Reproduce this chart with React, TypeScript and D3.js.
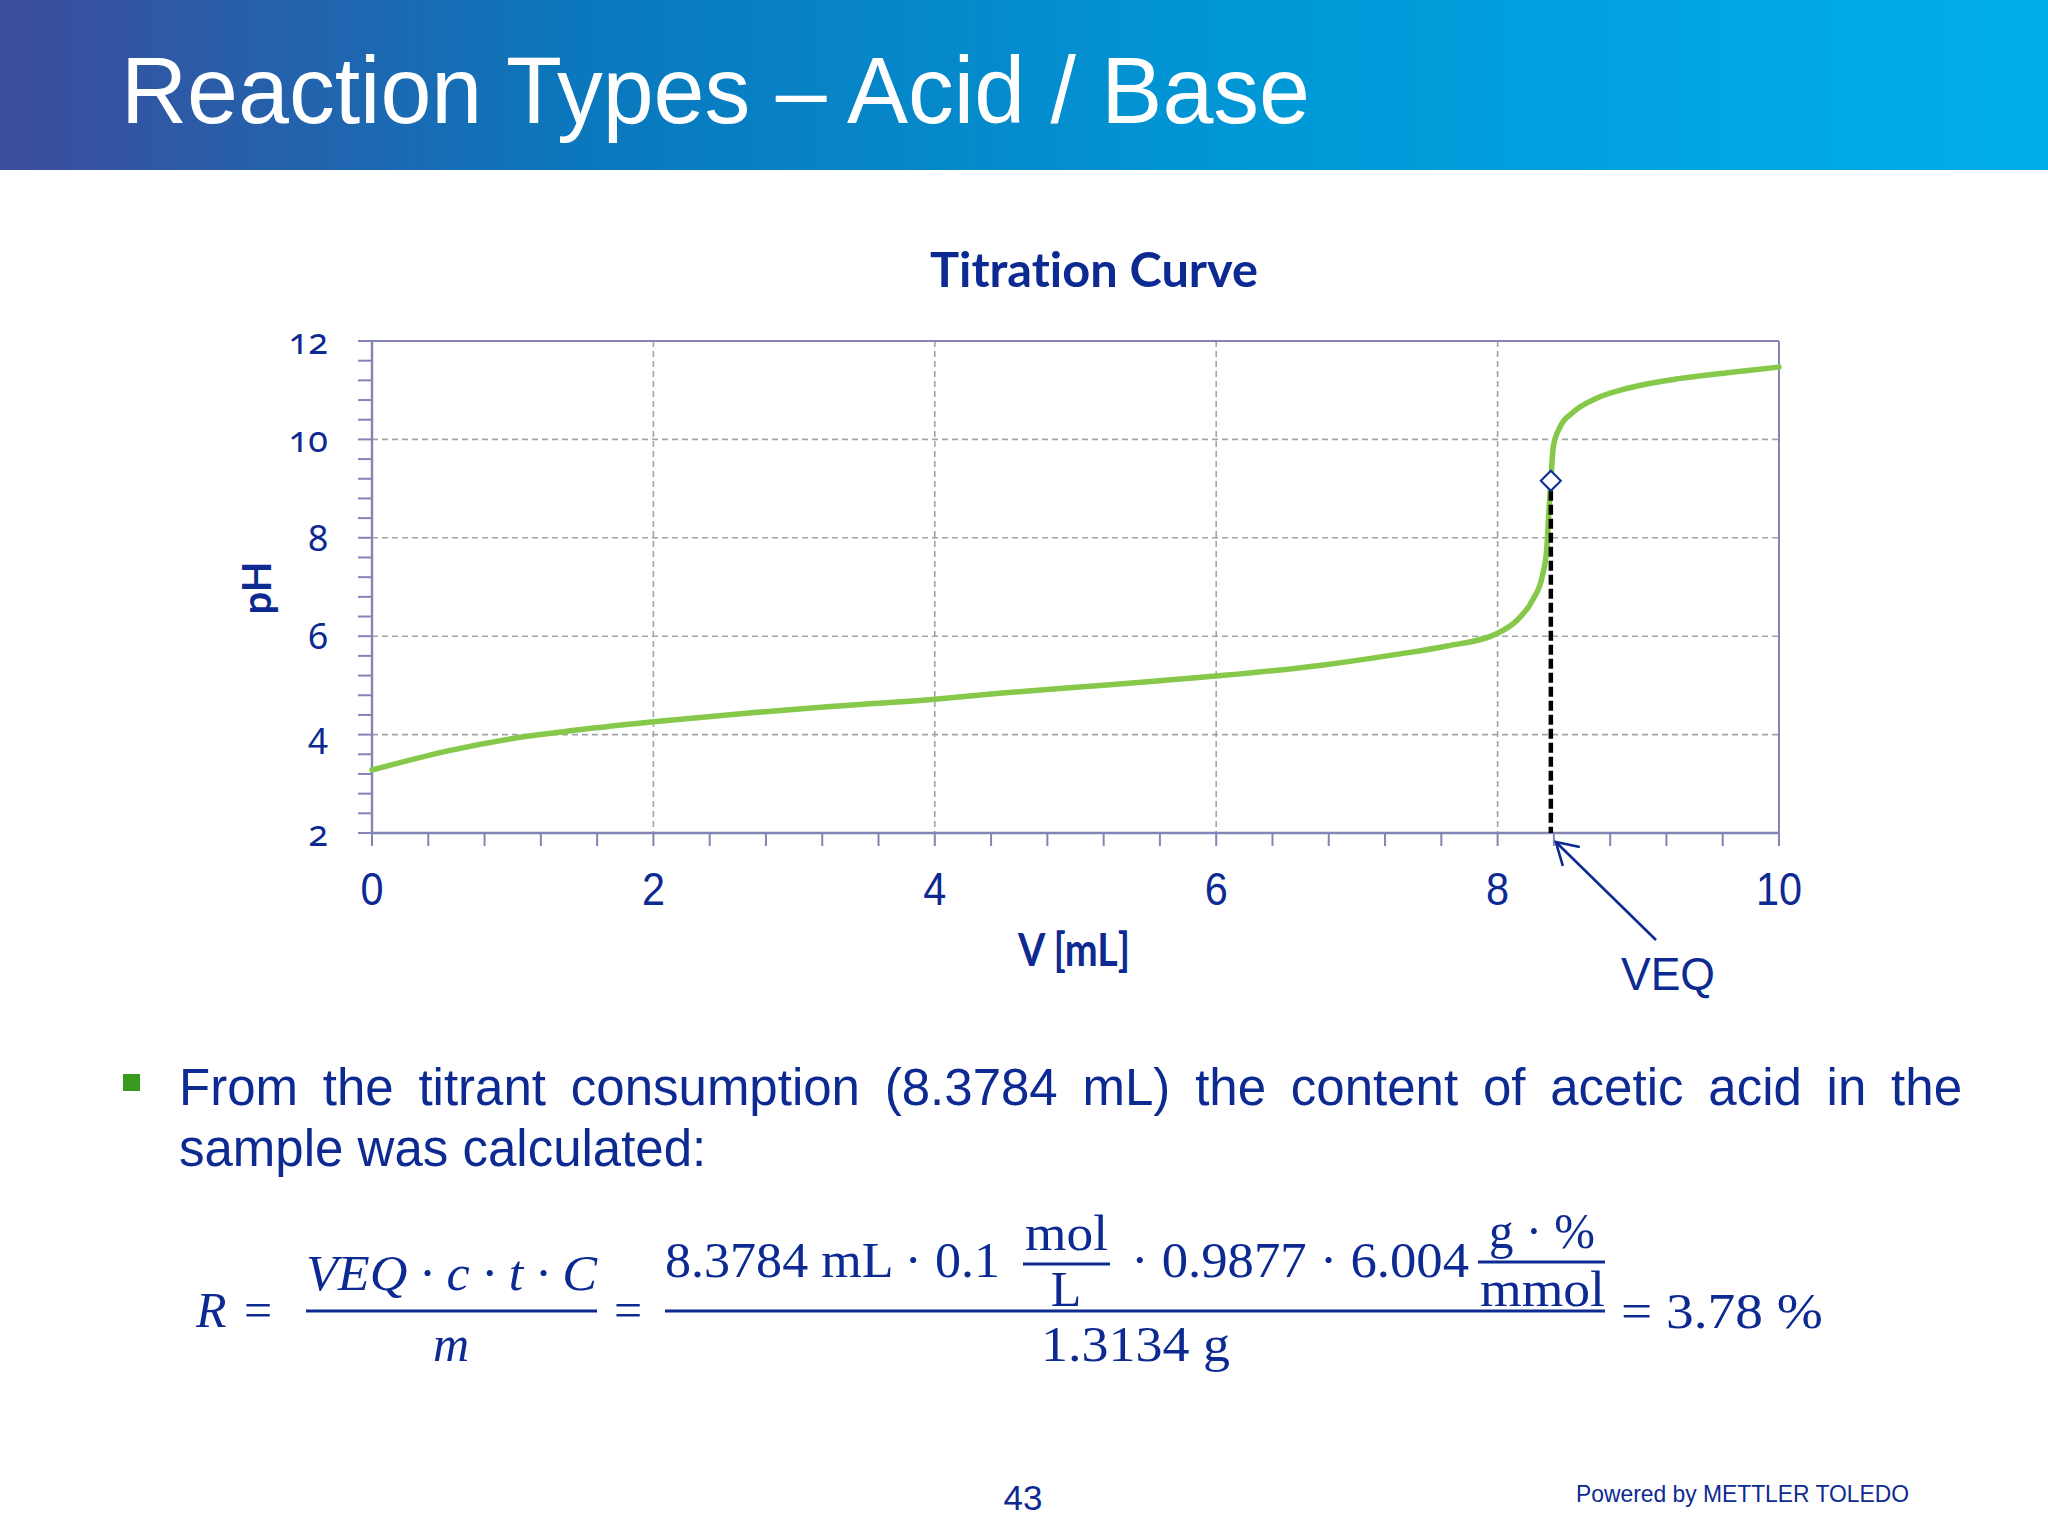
import { useMemo } from 'react';
import * as d3 from 'd3';

// titration data: added titrant volume [mL] vs. measured pH
const volume = [0, 0.54, 1.09, 1.36, 2, 2.72, 3.26, 4, 4.46, 5.22, 6, 6.75, 7.26, 7.64, 8, 8.14, 8.25, 8.32, 8.35, 8.366, 8.3784, 8.396, 8.44, 8.54, 8.7, 8.94, 9.3, 9.65, 10];
const ph = [3.28, 3.67, 3.96, 4.06, 4.26, 4.45, 4.57, 4.72, 4.84, 5.01, 5.19, 5.41, 5.62, 5.8, 6.06, 6.33, 6.74, 7.25, 7.8, 8.6, 9.16, 9.85, 10.23, 10.56, 10.83, 11.05, 11.24, 11.36, 11.47];

const xTicks = [0, 2, 4, 6, 8, 10];
const yTicks = [2, 4, 6, 8, 10, 12];

// equivalence point and the result calculation inputs
const veq = 8.3784;
const phAtVeq = 9.16;
const conc = 0.1;
const titer = 0.9877;
const molarC = 6.004;
const sampleMass = 1.3134;

const W = 2048;
const H = 1536;
const plot = { left: 372, right: 1779, top: 341, bottom: 833 };

const navy = '#0c2a92';
const axisColor = '#8484b8';
const gridColor = '#a3a3a3';
const curveColor = '#86c94a';
const sans = "'Liberation Sans', Arial, sans-serif";
const serif = "'Liberation Serif', 'Times New Roman', serif";
const bold = "Lato, 'Open Sans', sans-serif";

const bodyLine1 = `From the titrant consumption (${veq} mL) the content of acetic acid in the`;
const bodyLine2 = 'sample was calculated:';

function justify(text: string, x0: number, x1: number, font: string) {
  const words = text.split(' ');
  const ctx = document.createElement('canvas').getContext('2d')!;
  ctx.font = font;
  const widths = words.map(w => ctx.measureText(w).width);
  const gap = (x1 - x0 - d3.sum(widths)) / (words.length - 1);
  let x = x0;
  return words.map((w, i) => {
    const out = { w, x };
    x += widths[i] + gap;
    return out;
  });
}

export default function App() {
  const x = d3.scaleLinear().domain([0, 10]).range([plot.left, plot.right]);
  const y = d3.scaleLinear().domain([2, 12]).range([plot.bottom, plot.top]);

  const pts = volume.map((v, i) => [v, ph[i]] as [number, number]);
  const linePath = d3.line<[number, number]>()
    .x(d => x(d[0]))
    .y(d => y(d[1]))
    .curve(d3.curveMonotoneX)(pts)!;

  const xMinor = d3.range(0, 26).map(i => i * 0.4);
  const yMinor = d3.range(0, 26).map(i => 2 + i * 0.4);

  const words = useMemo(() => justify(bodyLine1, 179, 1962, `51px ${sans}`), []);

  const result = (veq * conc * titer * molarC) / sampleMass;
  const diamond = d3.symbol().type(d3.symbolSquare).size(200)()!;

  const vx = x(veq);
  const vy = y(phAtVeq);
  const noLig = { fontVariantLigatures: 'none' as const };

  return (
    <div style={{ position: 'absolute', left: 0, top: 0 }}>
      <svg width={W} height={H} style={{ display: 'block', background: '#fff' }}>
        <defs>
          <linearGradient id="hdr" x1="0" x2="1" y1="0" y2="0">
            <stop offset="0" stopColor="#3d4c9c" />
            <stop offset="0.28" stopColor="#0b77bc" />
            <stop offset="0.62" stopColor="#0098d7" />
            <stop offset="1" stopColor="#00aee9" />
          </linearGradient>
        </defs>

        {/* header band */}
        <rect x={0} y={0} width={W} height={170} fill="url(#hdr)" />
        <text x={121} y={123} fill="#fff" fontFamily={sans} fontSize={94}
          textLength={1189} lengthAdjust="spacingAndGlyphs">
          Reaction Types – Acid / Base
        </text>

        {/* chart title */}
        <text x={1094} y={287} fill={navy} fontFamily={bold} fontWeight={700} fontSize={48}
          textAnchor="middle" textLength={328} lengthAdjust="spacingAndGlyphs" style={noLig}>
          Titration Curve
        </text>

        {/* grid */}
        {[4, 6, 8, 10].map(t => (
          <line key={'gy' + t} x1={plot.left} x2={plot.right} y1={y(t)} y2={y(t)}
            stroke={gridColor} strokeWidth={1.6} strokeDasharray="6 4" />
        ))}
        {[2, 4, 6, 8].map(t => (
          <line key={'gx' + t} x1={x(t)} x2={x(t)} y1={plot.top} y2={plot.bottom}
            stroke={gridColor} strokeWidth={1.6} strokeDasharray="6 4" />
        ))}

        {/* frame and axes */}
        <line x1={plot.left} x2={plot.right} y1={plot.top} y2={plot.top} stroke={axisColor} strokeWidth={2} />
        <line x1={plot.right} x2={plot.right} y1={plot.top} y2={plot.bottom} stroke={axisColor} strokeWidth={2} />
        <line x1={plot.left} x2={plot.left} y1={plot.top} y2={plot.bottom} stroke={axisColor} strokeWidth={2.4} />
        <line x1={plot.left} x2={plot.right} y1={plot.bottom} y2={plot.bottom} stroke={axisColor} strokeWidth={2.4} />
        {yMinor.map(t => (
          <line key={'ty' + t} x1={plot.left - 14} x2={plot.left} y1={y(t)} y2={y(t)} stroke={axisColor} strokeWidth={2} />
        ))}
        {xMinor.map(t => (
          <line key={'tx' + t} x1={x(t)} x2={x(t)} y1={plot.bottom} y2={plot.bottom + 13} stroke={axisColor} strokeWidth={2} />
        ))}

        {/* y tick labels (old-style figures) */}
        {yTicks.map(t => (
          <text key={'ly' + t} x={328} y={y(t) + 13} fill={navy} fontFamily="'Noto Sans', sans-serif"
            fontSize={36} textAnchor="end" style={{ fontVariantNumeric: 'oldstyle-nums' }}>
            {t}
          </text>
        ))}
        {/* x tick labels */}
        {xTicks.map(t => (
          <text key={'lx' + t} transform={`translate(${x(t)},905) scale(0.9,1)`} fill={navy}
            fontFamily={sans} fontSize={46} textAnchor="middle">
            {t}
          </text>
        ))}

        {/* axis titles */}
        <text transform={`translate(271,588) rotate(-90)`} fill={navy} fontFamily={bold}
          fontWeight={700} fontSize={40} textAnchor="middle">
          pH
        </text>
        <text x={1074} y={966} fill={navy} fontFamily={bold} fontWeight={700} fontSize={46}
          textAnchor="middle" textLength={112} lengthAdjust="spacingAndGlyphs">
          V [mL]
        </text>

        {/* titration curve */}
        <path d={linePath} fill="none" stroke={curveColor} strokeWidth={5.5} strokeLinecap="round" />

        {/* equivalence point */}
        <line x1={vx} x2={vx} y1={vy + 10} y2={plot.bottom} stroke="#000" strokeWidth={4.5} strokeDasharray="10 4" />
        <path d={diamond} transform={`translate(${vx},${vy}) rotate(45)`} fill="#fff" stroke={navy} strokeWidth={2} />

        {/* VEQ callout */}
        <line x1={1656} y1={940} x2={vx + 5} y2={plot.bottom + 9} stroke={navy} strokeWidth={2.6} />
        <polyline points={`${vx + 29},${plot.bottom + 14} ${vx + 5},${plot.bottom + 9} ${vx + 12},${plot.bottom + 33}`}
          fill="none" stroke={navy} strokeWidth={2.6} />
        <text x={1621} y={990} fill={navy} fontFamily={sans} fontSize={46}
          textLength={94} lengthAdjust="spacingAndGlyphs">
          VEQ
        </text>

        {/* bullet text */}
        <rect x={123} y={1074} width={17} height={17} fill="#3a9a1e" />
        {words.map((d, i) => (
          <text key={'w' + i} x={d.x} y={1105} fill={navy} fontFamily={sans} fontSize={51}>{d.w}</text>
        ))}
        <text x={179} y={1166} fill={navy} fontFamily={sans} fontSize={51}>{bodyLine2}</text>

        {/* result formula */}
        <g fill={navy} fontFamily={serif} fontSize={50}>
          <text x={196} y={1327} fontStyle="italic">R</text>
          <text x={244} y={1327}>=</text>
          <text x={306} y={1290} fontStyle="italic" textLength={291} lengthAdjust="spacingAndGlyphs">VEQ · c · t · C</text>
          <line x1={306} x2={597} y1={1311} y2={1311} stroke={navy} strokeWidth={3} />
          <text x={451} y={1361} fontStyle="italic" textAnchor="middle">m</text>
          <text x={614} y={1327}>=</text>
          <line x1={665} x2={1605} y1={1311} y2={1311} stroke={navy} strokeWidth={3} />
          <text x={665} y={1277} textLength={335} lengthAdjust="spacingAndGlyphs">{`${veq} mL · ${conc}`}</text>
          <text x={1025} y={1250} textLength={83} lengthAdjust="spacingAndGlyphs">mol</text>
          <line x1={1023} x2={1110} y1={1264} y2={1264} stroke={navy} strokeWidth={3} />
          <text x={1066} y={1306} textAnchor="middle">L</text>
          <text x={1131} y={1277} textLength={338} lengthAdjust="spacingAndGlyphs">{`· ${titer} · ${molarC}`}</text>
          <text x={1489} y={1248} textLength={106} lengthAdjust="spacingAndGlyphs">g · %</text>
          <line x1={1478} x2={1605} y1={1262} y2={1262} stroke={navy} strokeWidth={3} />
          <text x={1480} y={1306} textLength={125} lengthAdjust="spacingAndGlyphs">mmol</text>
          <text x={1041} y={1361} textLength={189} lengthAdjust="spacingAndGlyphs">{`${sampleMass} g`}</text>
          <text x={1621} y={1328} textLength={202} lengthAdjust="spacingAndGlyphs">{`= ${result.toFixed(2)} %`}</text>
        </g>

        {/* footer */}
        <text x={1023} y={1510} fill={navy} fontFamily={sans} fontSize={35} textAnchor="middle">43</text>
        <text x={1576} y={1502} fill={navy} fontFamily={sans} fontSize={24}
          textLength={333} lengthAdjust="spacingAndGlyphs">
          Powered by METTLER TOLEDO
        </text>
      </svg>
    </div>
  );
}
